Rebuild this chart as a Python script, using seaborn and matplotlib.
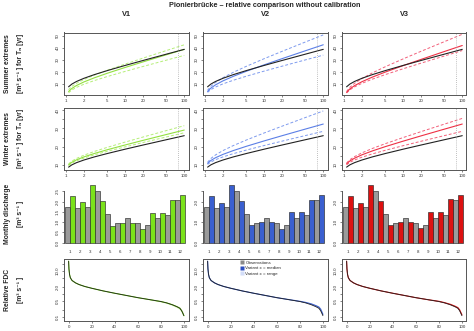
import numpy as np
import pandas as pd
import matplotlib
matplotlib.use("Agg")
import matplotlib.pyplot as plt
from matplotlib.lines import Line2D
import seaborn as sns

# ---------------- data ----------------
return_periods = [1.1, 1.25, 1.5, 2, 3, 5, 10, 20, 50, 100]
record_length = 77

summer_obs = [7.4, 9.67, 11.83, 14.45, 17.5, 20.89, 25.15, 29.24, 34.53, 38.5]
summer_v1_med = [3.5, 6.05, 8.49, 11.44, 14.86, 18.68, 23.48, 28.08, 34.04, 38.5]
summer_v1_hi = [5.0, 7.72, 10.32, 13.46, 17.11, 21.18, 26.29, 31.20, 37.54, 42.3]
summer_v1_lo = [2.5, 4.76, 6.92, 9.53, 12.57, 15.95, 20.19, 24.27, 29.55, 33.5]
summer_v2_med = [3.5, 6.33, 9.03, 12.30, 16.10, 20.33, 25.65, 30.75, 37.35, 42.3]
summer_v2_hi = [4.5, 7.85, 11.06, 14.93, 19.44, 24.45, 30.76, 36.81, 44.64, 50.5]
summer_v2_lo = [2.8, 5.05, 7.21, 9.81, 12.83, 16.20, 20.44, 24.50, 29.76, 33.7]
summer_v3_med = [2.8, 5.64, 8.35, 11.62, 15.43, 19.67, 25.0, 30.12, 36.74, 41.7]
summer_v3_hi = [3.5, 6.96, 10.27, 14.27, 18.92, 24.11, 30.61, 36.86, 44.94, 51.0]
summer_v3_lo = [2.3, 4.87, 7.32, 10.28, 13.73, 17.57, 22.39, 27.02, 33.01, 37.5]

winter_obs = [8.7, 9.96, 11.17, 12.62, 14.32, 16.20, 18.58, 20.85, 23.79, 26.0]
winter_v1_med = [10.0, 11.39, 12.72, 14.33, 16.20, 18.29, 20.90, 23.41, 26.66, 29.1]
winter_v1_hi = [10.5, 12.03, 13.49, 15.26, 17.32, 19.61, 22.49, 25.25, 28.82, 31.5]
winter_v1_lo = [9.6, 10.91, 12.17, 13.68, 15.44, 17.41, 19.87, 22.24, 25.31, 27.6]
winter_v2_med = [10.8, 12.37, 13.88, 15.70, 17.81, 20.17, 23.13, 25.97, 29.65, 32.4]
winter_v2_hi = [11.4, 13.46, 15.42, 17.80, 20.56, 23.63, 27.50, 31.20, 36.00, 39.6]
winter_v2_lo = [10.2, 11.53, 12.80, 14.33, 16.11, 18.10, 20.59, 22.98, 26.08, 28.4]
winter_v3_med = [10.5, 12.10, 13.62, 15.47, 17.61, 20.0, 23.0, 25.88, 29.61, 32.4]
winter_v3_hi = [11.0, 12.79, 14.49, 16.56, 18.96, 21.63, 24.98, 28.21, 32.38, 35.5]
winter_v3_lo = [10.0, 11.34, 12.62, 14.17, 15.97, 17.98, 20.50, 22.92, 26.05, 28.4]

months = ["1", "2", "3", "4", "5", "6", "7", "8", "9", "10", "11", "12"]
monthly_obs = [1.72, 1.69, 1.75, 2.51, 1.40, 0.95, 1.18, 0.98, 0.85, 1.20, 1.34, 2.09]
monthly_v1 = [2.29, 1.96, 2.79, 2.01, 0.82, 0.96, 0.98, 0.67, 1.46, 1.46, 2.07, 2.34]
monthly_v2 = [2.29, 1.95, 2.79, 2.02, 0.84, 1.02, 1.02, 0.67, 1.47, 1.47, 2.09, 2.34]
monthly_v3 = [2.29, 1.95, 2.79, 2.02, 0.85, 1.02, 1.02, 0.71, 1.47, 1.47, 2.11, 2.33]

fdc_pct = [0, 0.3, 0.8, 1.5, 3, 6, 9, 14, 20, 30, 40, 50, 60, 70, 80, 85, 90, 94, 96.5, 98, 99, 100]
fdc_obs = [26, 12.0, 7.0, 5.0, 3.8, 3.0, 2.55, 2.1, 1.76, 1.35, 1.07, 0.86, 0.69, 0.57,
           0.47, 0.41, 0.34, 0.28, 0.24, 0.19, 0.15, 0.115]
fdc_v1_med = [26, 12.0, 7.0, 5.0, 3.8, 3.0, 2.55, 2.1, 1.76, 1.35, 1.07, 0.86, 0.69, 0.57,
              0.47, 0.41, 0.34, 0.28, 0.24, 0.19, 0.15, 0.115]
fdc_v2_med = [26, 12.0, 7.0, 5.0, 3.8, 3.0, 2.55, 2.1, 1.76, 1.35, 1.07, 0.86, 0.69, 0.575,
              0.48, 0.43, 0.37, 0.31, 0.27, 0.22, 0.17, 0.13]
fdc_v3_med = [26, 12.0, 7.0, 5.0, 3.8, 3.0, 2.55, 2.1, 1.76, 1.35, 1.07, 0.86, 0.69, 0.57,
              0.48, 0.42, 0.355, 0.295, 0.255, 0.205, 0.16, 0.125]
band_pct = [70, 80, 85, 90, 94, 96.5, 98, 99, 100]
fdc_v1_lo = [0.56, 0.45, 0.39, 0.31, 0.25, 0.21, 0.17, 0.135, 0.105]
fdc_v1_hi = [0.58, 0.49, 0.43, 0.37, 0.31, 0.27, 0.21, 0.17, 0.125]
fdc_v2_lo = [0.57, 0.47, 0.41, 0.34, 0.28, 0.24, 0.19, 0.15, 0.115]
fdc_v2_hi = [0.59, 0.51, 0.46, 0.40, 0.34, 0.30, 0.25, 0.20, 0.15]
fdc_v3_lo = [0.56, 0.46, 0.40, 0.33, 0.27, 0.23, 0.18, 0.14, 0.11]
fdc_v3_hi = [0.58, 0.50, 0.44, 0.38, 0.32, 0.28, 0.23, 0.18, 0.14]

variant_names = ["V1", "V2", "V3"]
line_colors = ["#93E040", "#5B7FE6", "#EE3045"]
dash_colors = ["#B5EE78", "#7D9AEE", "#F2607A"]
bar_colors = ["#7BE21A", "#3A5FD0", "#DD1010"]
band_colors = ["#E4F8C8", "#D3DDF8", "#F8D0D6"]
obs_bar_color = "#9A9A9A"
obs_line_color = "#222222"

# ---------------- style ----------------
sns.set_style("ticks")
plt.rcParams["font.family"] = ["Liberation Sans", "DejaVu Sans"]
plt.rcParams["axes.linewidth"] = 0.7
plt.rcParams["xtick.major.width"] = 0.5
plt.rcParams["ytick.major.width"] = 0.5
plt.rcParams["xtick.major.size"] = 1.6
plt.rcParams["ytick.major.size"] = 1.6
plt.rcParams["xtick.major.pad"] = 1.4
plt.rcParams["ytick.major.pad"] = 1.4

W, H = 474, 331
fig = plt.figure(figsize=(W / 100, H / 100), dpi=100)

col_left = [64, 203, 342]
col_w = 124.5
row_top = [32.5, 107.5, 183, 258.5]
row_h = 62
TICK_FS = 3.2
LAB_FS = 4.9
BOX_COLOR = "#555555"
TXT_COLOR = "#333333"


def add_panel(r, c):
    return fig.add_axes([col_left[c] / W, 1 - (row_top[r] + row_h) / H,
                         col_w / W, row_h / H])


def style_box(ax):
    for s in ax.spines.values():
        s.set_color(BOX_COLOR)
        s.set_linewidth(0.7)
    ax.tick_params(labelsize=TICK_FS, colors=BOX_COLOR, labelcolor=TXT_COLOR)


def set_yticks(ax, ticks, labels):
    ax.set_yticks(ticks)
    ax.set_yticklabels(labels, rotation=90, va="center")


def extremes_panel(ax, obs, med, lo, hi, k, ylim, yticks, ylabels):
    for vals in (lo, hi):
        sns.lineplot(x=return_periods, y=vals, ax=ax, color=dash_colors[k],
                     linewidth=0.7, linestyle=(0, (3, 2)))
    sns.lineplot(x=return_periods, y=med, ax=ax, color=line_colors[k], linewidth=0.8)
    sns.lineplot(x=return_periods, y=obs, ax=ax, color=obs_line_color, linewidth=0.8)
    ax.axvline(record_length, color="#AAAAAA", linestyle=(0, (1, 1.5)), linewidth=0.6)
    ax.set_xscale("log")
    ax.set_xlim(0.92, 118)
    ax.set_ylim(*ylim)
    xt = [1, 2, 5, 10, 20, 50, 100]
    ax.set_xticks(xt)
    ax.set_xticklabels([str(v) for v in xt])
    ax.xaxis.set_minor_locator(matplotlib.ticker.NullLocator())
    set_yticks(ax, yticks, ylabels)
    ax.set_xlabel("")
    ax.set_ylabel("")
    style_box(ax)


summer = [(summer_v1_med, summer_v1_lo, summer_v1_hi),
          (summer_v2_med, summer_v2_lo, summer_v2_hi),
          (summer_v3_med, summer_v3_lo, summer_v3_hi)]
winter = [(winter_v1_med, winter_v1_lo, winter_v1_hi),
          (winter_v2_med, winter_v2_lo, winter_v2_hi),
          (winter_v3_med, winter_v3_lo, winter_v3_hi)]
monthly = [monthly_v1, monthly_v2, monthly_v3]
fdc_meds = [fdc_v1_med, fdc_v2_med, fdc_v3_med]
fdc_bands = [(fdc_v1_lo, fdc_v1_hi), (fdc_v2_lo, fdc_v2_hi), (fdc_v3_lo, fdc_v3_hi)]

for k in range(3):
    # summer extremes
    ax = add_panel(0, k)
    med, lo, hi = summer[k]
    extremes_panel(ax, summer_obs, med, lo, hi, k, (1, 52.5),
                   [10, 20, 30, 40, 50], ["10", "20", "30", "40", "50"])

    # winter extremes
    ax = add_panel(1, k)
    med, lo, hi = winter[k]
    extremes_panel(ax, winter_obs, med, lo, hi, k, (7.4, 41.5),
                   [10, 15, 20, 25, 30, 35, 40],
                   ["10", "", "20", "", "30", "", "40"])

    # monthly discharge
    ax = add_panel(2, k)
    df = pd.DataFrame({
        "month": months + months,
        "discharge": monthly_obs + monthly[k],
        "series": ["Observations"] * 12 + ["Variant"] * 12,
    })
    sns.barplot(data=df, x="month", y="discharge", hue="series", order=months,
                hue_order=["Observations", "Variant"],
                palette=[obs_bar_color, bar_colors[k]], width=1.0,
                edgecolor="#2A2A2A", linewidth=0.45, errorbar=None,
                legend=False, ax=ax, saturation=1)
    ax.set_xlim(-0.6, 11.85)
    ax.set_ylim(-0.11, 2.9)
    for s in ("top", "right", "bottom"):
        ax.spines[s].set_visible(False)
    ax.spines["left"].set_bounds(0, 2.5)
    if k == 0:
        set_yticks(ax, [0, 0.5, 1, 1.5, 2, 2.5],
                   ["0.0", "0.5", "1.0", "1.5", "2.0", "2.5"])
    else:
        set_yticks(ax, [0, 0.5, 1, 1.5, 2, 2.5],
                   ["0.0", "", "1.0", "", "2.0", ""])
    ax.set_xlabel("")
    ax.set_ylabel("")
    style_box(ax)
    ax.tick_params(axis="x", length=0, pad=3.4)

    # relative flow duration curve
    ax = add_panel(3, k)
    lo, hi = fdc_bands[k]
    ax.fill_between(band_pct, lo, hi, color=band_colors[k], linewidth=0)
    sns.lineplot(x=fdc_pct, y=fdc_meds[k], ax=ax, color=bar_colors[k], linewidth=0.8)
    sns.lineplot(x=fdc_pct, y=fdc_obs, ax=ax, color=obs_line_color, linewidth=0.6)
    ax.set_yscale("log")
    ax.set_xlim(-4, 104)
    ax.set_ylim(0.071, 34)
    ax.set_xticks([0, 20, 40, 60, 80, 100])
    ax.set_xticklabels(["0", "20", "40", "60", "80", "100"])
    ax.yaxis.set_minor_locator(matplotlib.ticker.NullLocator())
    set_yticks(ax, [0.1, 0.2, 0.5, 1, 2, 5, 10, 20],
               ["0.1", "", "0.5", "", "2.0", "", "10.0", ""])
    ax.set_xlabel("")
    ax.set_ylabel("")
    style_box(ax)

    if k == 1:
        handles = [
            Line2D([], [], marker="s", linestyle="none", markersize=2.6,
                   markerfacecolor="#8A8A8A", markeredgecolor="none"),
            Line2D([], [], marker="s", linestyle="none", markersize=2.6,
                   markerfacecolor="#2C4FC0", markeredgecolor="none"),
            Line2D([], [], marker="s", linestyle="none", markersize=2.6,
                   markerfacecolor=band_colors[1], markeredgecolor="none"),
        ]
        ax.legend(handles, ["Observations", "Variant x = median", "Variant x = range"],
                  loc="upper left", bbox_to_anchor=(0.28, 1.01), frameon=False,
                  fontsize=3.2, handlelength=0.8, handletextpad=0.3,
                  labelspacing=0.35, borderaxespad=0.2)

# ---------------- titles and row labels ----------------
fig.text(265 / W, 1 - 5.5 / H, "Pionierbrücke – relative comparison without calibration",
         ha="center", va="center", fontsize=5.2, fontweight="bold")
for k, name in enumerate(variant_names):
    cx = col_left[k] + col_w / 2
    fig.text(cx / W, 1 - 15 / H, name, ha="center", va="center",
             fontsize=5.3, fontweight="bold")

row_labels = [
    ("Summer extremes", "[m³ s⁻¹ ] for Tₙ [yr]"),
    ("Winter extremes", "[m³ s⁻¹ ] for Tₙ [yr]"),
    ("Monthly discharge", "[m³ s⁻¹ ]"),
    ("Relative FDC", "[m³ s⁻¹ ]"),
]
for r, (l1, l2) in enumerate(row_labels):
    cy = 1 - (row_top[r] + row_h / 2) / H
    fig.text(7.5 / W, cy, l1, rotation=90, ha="center", va="center",
             fontsize=LAB_FS, fontweight="bold")
    fig.text(20.5 / W, cy, l2, rotation=90, ha="center", va="center",
             fontsize=LAB_FS, fontweight="bold")

fig.savefig("out.png", dpi=100)
